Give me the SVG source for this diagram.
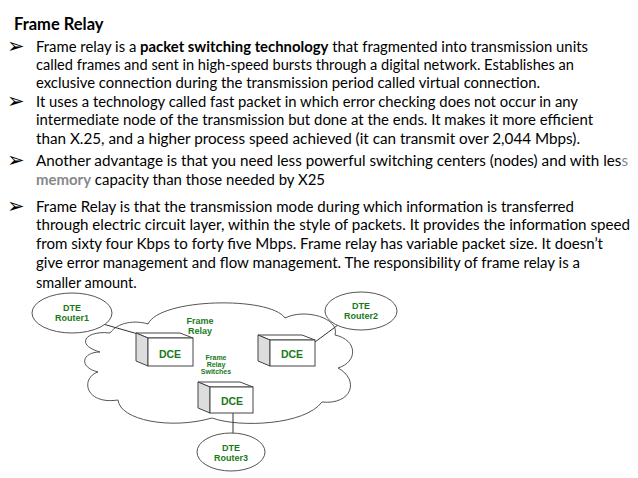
<svg xmlns="http://www.w3.org/2000/svg" width="638" height="478" viewBox="0 0 638 478">
<style>
.t{font-family:Lato,"Open Sans",sans-serif;font-size:14.5px;fill:#000}
.bl{font-family:"DejaVu Sans",sans-serif;font-size:21px}
.b{font-weight:bold}
.g{font-family:"Liberation Sans",Arial,sans-serif;font-weight:bold;fill:#1a7a1a;text-anchor:middle}
.e{fill:#fff;stroke:#555;stroke-width:1}
.ln{stroke:#333;stroke-width:1;fill:none}
</style>
<rect width="638" height="478" fill="#fff"/>
<text class="t b" x="14" y="30" style="font-size:16.5px">Frame Relay</text>
<g class="t">
<text class="bl" x="7" y="53">➢</text><text x="36" y="52" textLength="552" lengthAdjust="spacingAndGlyphs">Frame relay is a <tspan class="b">packet switching technology</tspan> that fragmented into transmission units</text>
<text x="36" y="70" textLength="538" lengthAdjust="spacingAndGlyphs">called frames and sent in high-speed bursts through a digital network. Establishes an</text>
<text x="36" y="88" textLength="504" lengthAdjust="spacingAndGlyphs">exclusive connection during the transmission period called virtual connection.</text>
<text class="bl" x="7" y="108">➢</text><text x="36" y="107" textLength="542" lengthAdjust="spacingAndGlyphs">It uses a technology called fast packet in which error checking does not occur in any</text>
<text x="36" y="125" textLength="557" lengthAdjust="spacingAndGlyphs">intermediate node of the transmission but done at the ends. It makes it more efficient</text>
<text x="36" y="144" textLength="544" lengthAdjust="spacingAndGlyphs">than X.25, and a higher process speed achieved (it can transmit over 2,044 Mbps).</text>
<text class="bl" x="7" y="167">➢</text><text x="36" y="166" textLength="592" lengthAdjust="spacingAndGlyphs">Another advantage is that you need less powerful switching centers (nodes) and with les<tspan fill="#888">s</tspan></text>
<text x="36" y="185" textLength="289" lengthAdjust="spacingAndGlyphs"><tspan fill="#888" class="b">memory</tspan> capacity than those needed by X25</text>
<text class="bl" x="7" y="213">➢</text><text x="36" y="212" textLength="538" lengthAdjust="spacingAndGlyphs"> Frame Relay is that the transmission mode during which information is transferred</text>
<text x="36" y="230" textLength="594" lengthAdjust="spacingAndGlyphs">through electric circuit layer, within the style of packets. It provides the information speed</text>
<text x="36" y="249" textLength="567" lengthAdjust="spacingAndGlyphs">from sixty four Kbps to forty five Mbps. Frame relay has variable packet size. It doesn’t</text>
<text x="36" y="268" textLength="544" lengthAdjust="spacingAndGlyphs">give error management and flow management. The responsibility of frame relay is a</text>
<text x="36" y="288">smaller amount.</text>
</g>
<g id="cloud"><path class="e" d="M100,352 C75,345 85,330 110,333 C118,322 135,320 148,324 C160,298 270,296 285,318 C305,308 340,318 335,335 C358,340 358,362 338,368 C360,380 352,405 322,402 C305,425 240,428 212,418 C170,430 120,420 118,400 C85,405 80,378 98,372 C78,367 82,352 100,352 Z"/></g>
<g id="connectors">
<line class="ln" x1="96" y1="322" x2="138" y2="334"/>
<line class="ln" x1="342" y1="322" x2="315" y2="342"/>
<line class="ln" x1="233" y1="412" x2="233" y2="438"/>
</g>
<g id="r1"><ellipse class="e" cx="72" cy="313" rx="40" ry="20"/><text class="g" x="72" y="311" font-size="9">DTE</text><text class="g" x="72" y="321" font-size="9">Router1</text></g>
<g id="r2"><ellipse class="e" cx="361" cy="311" rx="36" ry="19"/><text class="g" x="361" y="309" font-size="9">DTE</text><text class="g" x="361" y="319" font-size="9">Router2</text></g>
<g id="r3"><ellipse class="e" cx="231" cy="452" rx="34" ry="19"/><text class="g" x="231" y="451" font-size="9">DTE</text><text class="g" x="231" y="461" font-size="9">Router3</text></g>
<text class="g" x="200" y="324" font-size="9">Frame</text><text class="g" x="200" y="334" font-size="9">Relay</text>
<text class="g" x="216" y="360" font-size="7">Frame</text><text class="g" x="216" y="367" font-size="7">Relay</text><text class="g" x="216" y="374" font-size="7">Switches</text>
<g id="dce1"><path d="M136,333 L180,333 L193,338 L148,338 Z" fill="#fff" stroke="#444"/><path d="M136,333 L148,338 L148,366 L136,361 Z" fill="#ddd" stroke="#444"/><rect x="148" y="338" width="45" height="28" fill="#fff" stroke="#444"/><text class="g" x="170" y="358" font-size="10.5">DCE</text></g>
<g id="dce2"><path d="M258,335 L302,335 L315,340 L270,340 Z" fill="#fff" stroke="#444"/><path d="M258,335 L270,340 L270,366 L258,361 Z" fill="#ddd" stroke="#444"/><rect x="270" y="340" width="45" height="26" fill="#fff" stroke="#444"/><text class="g" x="292" y="358" font-size="10.5">DCE</text></g>
<g id="dce3"><path d="M198,382 L240,382 L253,387 L210,387 Z" fill="#fff" stroke="#444"/><path d="M198,382 L210,387 L210,413 L198,408 Z" fill="#ddd" stroke="#444"/><rect x="210" y="387" width="43" height="26" fill="#fff" stroke="#444"/><text class="g" x="232" y="405" font-size="10.5">DCE</text></g>
</svg>
